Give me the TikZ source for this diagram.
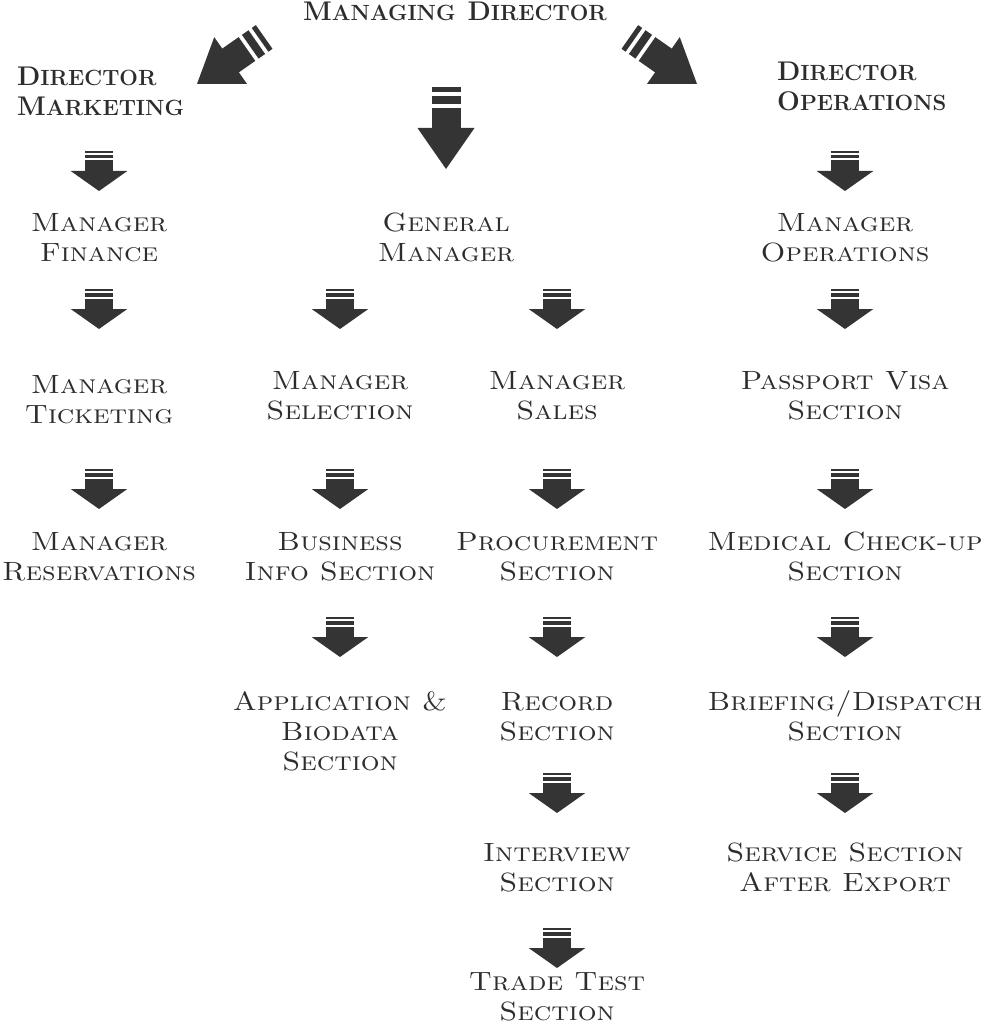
\documentclass[tikz,border=0pt]{standalone}
\usepackage{tikz}
\usepackage{graphicx}
\definecolor{ink}{RGB}{52,52,52}
\definecolor{txt}{RGB}{45,45,45}
\newcommand\bsc[2]{{\fontsize{27}{30}\selectfont #1}{\fontsize{22}{30}\selectfont #2}}
\newcommand\lines[1]{\scalebox{1.12}[1]{\setlength\tabcolsep{0pt}\renewcommand\arraystretch{1}\begin{tabular}[t]{c}#1\end{tabular}}}
\newcommand\blines[1]{\setlength\tabcolsep{0pt}\renewcommand\arraystretch{1}\begin{tabular}[t]{l}#1\end{tabular}}
\tikzset{
  lbl/.style={anchor=base, inner sep=0pt, text=txt,
    font=\fontsize{26.4}{30}\selectfont\scshape},
  ttl/.style={anchor=base west, inner sep=0pt, text=txt,
    font=\bfseries\fontsize{22}{30}\selectfont},
  sarr/.pic={
    \fill[ink] (-28.3,-20) -- (28.3,-20) -- (0,0) -- cycle;
    \fill[ink] (-14,-30.5) rectangle (14,-19.5);
    \fill[ink] (-14,-36.3) rectangle (14,-32.5);
    \fill[ink] (-14,-40) rectangle (14,-38);
  },
  barr/.pic={
    \fill[ink] (-28.5,-41) -- (28.5,-41) -- (0,0) -- cycle;
    \fill[ink] (-14.5,-61) rectangle (14.5,-40.5);
    \fill[ink] (-14.5,-73) rectangle (14.5,-65);
    \fill[ink] (-14.5,-82) rectangle (14.5,-77);
  }
}
\begin{document}
\begin{tikzpicture}[x=1pt,y=-1pt]
\useasboundingbox[fill=white] (0,0) rectangle (984,1024);
% titles
\node[anchor=base, inner sep=0pt, text=txt, font=\bfseries] (md) at (455,20.5) {\bsc{M}{ANAGING}\hspace{12pt}\bsc{D}{IRECTOR}};
\node[ttl] (dm) at (17,86) {\blines{\bsc{D}{IRECTOR}\\\bsc{M}{ARKETING}}};
\node[ttl] (dop) at (777,81) {\blines{\bsc{D}{IRECTOR}\\\bsc{O}{PERATIONS}}};
% top arrows
\pic[rotate=-55] at (197,84) {barr};
\pic[rotate=55] at (697,84) {barr};
\pic at (446,169) {barr};
% column 1
\node[lbl] (mf) at (99,232) {\lines{Manager\\Finance}};
\node[lbl] (mt) at (99,393) {\lines{Manager\\Ticketing}};
\node[lbl] (mr) at (99,550) {\lines{Manager\\Reservations}};
% general manager
\node[lbl] (gm) at (446,232) {\lines{General\\Manager}};
% column 2
\node[lbl] (msel) at (340,389) {\lines{Manager\\Selection}};
\node[lbl] (bis) at (340,550) {\lines{Business\\Info Section}};
\node[lbl] (abs) at (340,710) {\lines{Application \&\\Biodata\\Section}};
% column 3
\node[lbl] (msal) at (557,389) {\lines{Manager\\Sales}};
\node[lbl] (ps) at (557,550) {\lines{Procurement\\Section}};
\node[lbl] (rs) at (557,710) {\lines{Record\\Section}};
\node[lbl] (is) at (557,861) {\lines{Interview\\Section}};
\node[lbl] (tts) at (557,990) {\lines{Trade Test\\Section}};
% column 4
\node[lbl] (mo) at (845,232) {\lines{Manager\\Operations}};
\node[lbl] (pvs) at (845,389) {\lines{Passport Visa\\Section}};
\node[lbl] (mcs) at (845,550) {\lines{Medical Check-up\\Section}};
\node[lbl] (bds) at (845,710) {\lines{Briefing/Dispatch\\Section}};
\node[lbl] (ssae) at (845,861) {\lines{Service Section\\After Export}};
% small arrows
\foreach \x/\y in {99/191,99/329,99/509,
                   340/329,340/509,340/657,
                   557/329,557/509,557/657,557/813,557/968,
                   845/191,845/329,845/509,845/657,845/813}
  \pic at (\x,\y) {sarr};
\end{tikzpicture}
\end{document}
